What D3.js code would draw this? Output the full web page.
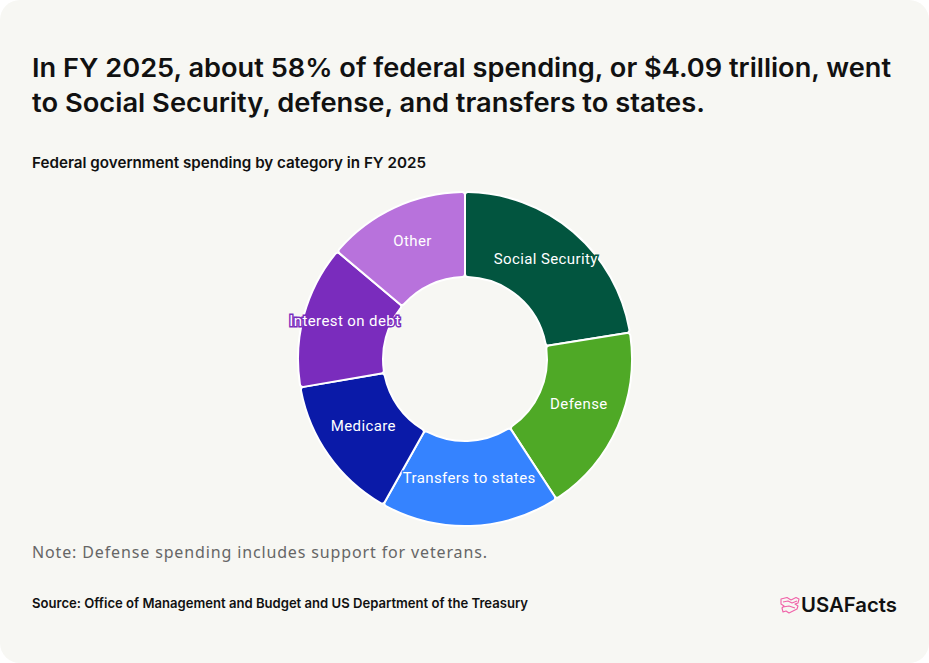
<!DOCTYPE html>
<html>
<head>
<meta charset="utf-8">
<script src="https://cdn.jsdelivr.net/npm/d3@7"></script>
<style>
  body { margin: 0; background: #ffffff; }
  svg { display: block; }
</style>
</head>
<body>
<div id="chart"></div>
<script>
// FY 2025 federal spending, billions of dollars
var categories = ["Social Security", "Defense", "Transfers to states", "Medicare", "Interest on debt", "Other"];
var spending   = [1580, 1290, 1220, 995, 975, 975];
var colors     = ["#02553f", "#4fa926", "#3583ff", "#0a1aa8", "#7a2cbd", "#b872dc"];

var width = 929, height = 663;

var svg = d3.select("#chart").append("svg")
  .attr("width", width)
  .attr("height", height);

// card
svg.append("rect")
  .attr("width", width).attr("height", height)
  .attr("rx", 20).attr("fill", "#f7f7f3");

// title, subtitle
var title = ["In FY 2025, about 58% of federal spending, or $4.09 trillion, went",
             "to Social Security, defense, and transfers to states."];
var titleWidths = [859, 673];
svg.selectAll(".title").data(title).enter().append("text")
  .attr("class", "title")
  .attr("x", 32)
  .attr("y", (d, i) => 77 + i * 35)
  .attr("font-family", "Inter, sans-serif")
  .attr("font-weight", 600)
  .attr("font-size", 26)
  .attr("fill", "#111")
  .attr("textLength", (d, i) => titleWidths[i])
  .attr("lengthAdjust", "spacingAndGlyphs")
  .text(d => d);

svg.append("text")
  .attr("x", 32).attr("y", 168)
  .attr("font-family", "Inter, sans-serif")
  .attr("font-weight", 600)
  .attr("font-size", 15)
  .attr("fill", "#111")
  .attr("textLength", 394).attr("lengthAdjust", "spacingAndGlyphs")
  .text("Federal government spending by category in FY 2025");

// donut
var cx = 465, cy = 359, outerR = 167, innerR = 82;
var g = svg.append("g").attr("transform", "translate(" + cx + "," + cy + ")");

var color = d3.scaleOrdinal().domain(categories).range(colors);
var pie = d3.pie().sort(null).value(d => d.value);
var arcs = pie(categories.map((c, i) => ({ name: c, value: spending[i] })));

var arc = d3.arc().innerRadius(innerR).outerRadius(outerR).cornerRadius(3);
var labelArc = d3.arc().innerRadius((innerR + outerR) / 2).outerRadius((innerR + outerR) / 2);

g.selectAll("path").data(arcs).enter().append("path")
  .attr("d", arc)
  .attr("fill", d => color(d.data.name))
  .attr("stroke", "#ffffff")
  .attr("stroke-width", 2);

g.selectAll(".lbl").data(arcs).enter().append("text")
  .attr("class", "lbl")
  .attr("transform", d => "translate(" + labelArc.centroid(d) + ")")
  .attr("text-anchor", "middle")
  .attr("font-family", "Roboto, sans-serif")
  .attr("font-size", 15)
  .attr("letter-spacing", 0.4)
  .attr("fill", "#ffffff")
  .attr("stroke", d => color(d.data.name))
  .attr("stroke-width", 3)
  .attr("paint-order", "stroke")
  .text(d => d.data.name);

// note and source
svg.append("text")
  .attr("x", 32).attr("y", 558)
  .attr("font-family", "'Noto Sans', sans-serif")
  .attr("font-size", 16)
  .attr("fill", "#666")
  .attr("textLength", 455).attr("lengthAdjust", "spacing")
  .text("Note: Defense spending includes support for veterans.");

svg.append("text")
  .attr("x", 32).attr("y", 608)
  .attr("font-family", "Inter, sans-serif")
  .attr("font-weight", 600)
  .attr("font-size", 13.5)
  .attr("fill", "#111")
  .attr("textLength", 496).attr("lengthAdjust", "spacingAndGlyphs")
  .text("Source: Office of Management and Budget and US Department of the Treasury");

// logo (rough flag outline)
var logo = svg.append("g").attr("transform", "translate(780,597)");
logo.append("path")
  .attr("d", "M1,2 L7,0.5 L11,3 L16,0.5 L19,2 L18,6 L15,7 L18,9 L17,12 L13,14 L9,16 L6,14 L3,15 L2,11 L4,9 L1,7 Z M3,5 L8,4 L12,6 L17,4 M3,10 L9,9 L15,11")
  .attr("fill", "none")
  .attr("stroke", "#f062a8")
  .attr("stroke-width", 1.1)
  .attr("stroke-linejoin", "round");
svg.append("text")
  .attr("x", 801).attr("y", 612)
  .attr("font-family", "Inter, sans-serif")
  .attr("font-weight", 600)
  .attr("font-size", 20)
  .attr("fill", "#111")
  .attr("textLength", 96).attr("lengthAdjust", "spacingAndGlyphs")
  .text("USAFacts");
</script>
</body>
</html>
